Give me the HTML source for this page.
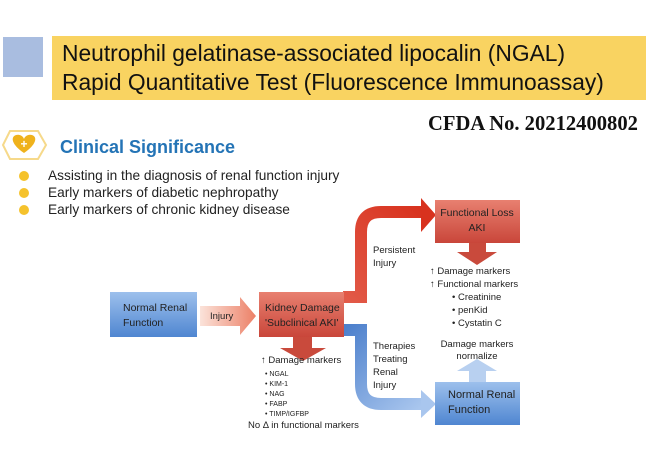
<!DOCTYPE html>
<html><head><meta charset="utf-8"><style>
body{margin:0;width:650px;height:466px;background:#fff;overflow:hidden;position:relative;font-family:"Liberation Sans",sans-serif}
.a{position:absolute;white-space:nowrap}
</style></head><body>
<div class="a" style="left:3px;top:37px;width:40px;height:40px;background:#a9bde0"></div>
<div class="a" style="left:52px;top:36px;width:594px;height:64px;background:#f9d361"></div>
<div class="a" style="left:62px;top:39px;font-size:22.8px;line-height:29px;color:#111">Neutrophil gelatinase-associated lipocalin (NGAL)<br>Rapid Quantitative Test (Fluorescence Immunoassay)</div>
<div class="a" style="left:428px;top:113px;font-family:'Liberation Serif',serif;font-weight:bold;font-size:20.6px;color:#111">CFDA No. 20212400802</div>
<svg class="a" style="left:0;top:0" width="650" height="466">
<defs>
<linearGradient id="bl" x1="0" y1="0" x2="0" y2="1"><stop offset="0" stop-color="#9dc0ec"/><stop offset="1" stop-color="#4f86d1"/></linearGradient>
<linearGradient id="rd" x1="0" y1="0" x2="0" y2="1"><stop offset="0" stop-color="#e88070"/><stop offset="1" stop-color="#c9463a"/></linearGradient>
<linearGradient id="inj" x1="0" y1="0" x2="1" y2="0"><stop offset="0" stop-color="#fbe3da"/><stop offset="1" stop-color="#ec8067"/></linearGradient>
<linearGradient id="rarr" x1="0" y1="1" x2="1" y2="0"><stop offset="0" stop-color="#e25a48"/><stop offset="1" stop-color="#d8321e"/></linearGradient>
<linearGradient id="barr" x1="0" y1="0" x2="1" y2="1"><stop offset="0" stop-color="#4d80cc"/><stop offset="1" stop-color="#a9c6ee"/></linearGradient>
</defs>
<polygon points="10,131 38,131 46,145 38,159 10,159 3,145" fill="none" stroke="#f6d98a" stroke-width="2"/>
<path d="M24,153 C12,145 10,137 16,135 C20,134 23,136 24,139 C25,136 28,134 32,135 C38,137 36,145 24,153Z" fill="#efb21c"/>
<text x="24" y="148" font-size="12" fill="#fff" text-anchor="middle" font-weight="bold">+</text>
<text x="60" y="153" font-size="18" font-weight="bold" fill="#2474b6">Clinical Significance</text>
<circle cx="24" cy="176" r="5" fill="#f5c22c"/><circle cx="24" cy="193" r="5" fill="#f5c22c"/><circle cx="24" cy="210" r="5" fill="#f5c22c"/>
<g font-size="13.7" fill="#222"><text x="48" y="180">Assisting in the diagnosis of renal function injury</text><text x="48" y="197">Early markers of diabetic nephropathy</text><text x="48" y="214">Early markers of chronic kidney disease</text></g>
<path d="M343,297 H361 V232 Q361,212 381,212 H424" fill="none" stroke="url(#rarr)" stroke-width="12"/>
<polygon points="421,198 436,215 421,232" fill="#d8321e"/>
<path d="M343,330 H361 V384 Q361,404 381,404 H424" fill="none" stroke="url(#barr)" stroke-width="12"/>
<polygon points="421,390 436,404 421,418" fill="#a9c6ee"/>
<rect x="110" y="292" width="87" height="45" fill="url(#bl)"/>
<polygon points="200,306 240,306 240,297 256,316 240,335 240,326 200,326" fill="url(#inj)"/>
<rect x="259" y="292" width="85" height="45" fill="url(#rd)"/>
<polygon points="293,337 312,337 312,348 326,348 303,361 280,348 293,348" fill="#c94a3c"/>
<rect x="435" y="200" width="85" height="43" fill="url(#rd)"/>
<polygon points="469,243 486,243 486,252 497,252 477,265 457,252 469,252" fill="#c94a3c"/>
<rect x="435" y="382" width="85" height="43" fill="url(#bl)"/>
<polygon points="469,382 486,382 486,371 497,371 477,359 457,371 469,371" fill="#b8d0f0"/>
<g font-family="'Liberation Sans',sans-serif" fill="#222">
<text x="123" y="311" font-size="10.5">Normal Renal</text><text x="123" y="326" font-size="10.5">Function</text>
<text x="210" y="319" font-size="9.5">Injury</text>
<text x="265" y="311" font-size="10.5">Kidney Damage</text><text x="265" y="326" font-size="10.5">'Subclinical AKI'</text>
<text x="477" y="216" font-size="10.5" text-anchor="middle">Functional Loss</text><text x="477" y="231" font-size="10.5" text-anchor="middle">AKI</text>
<text x="448" y="398" font-size="11">Normal Renal</text><text x="448" y="413" font-size="11">Function</text>
<g font-size="9.5"><text x="373" y="253">Persistent</text><text x="373" y="266">Injury</text>
<text x="373" y="349">Therapies</text><text x="373" y="362">Treating</text><text x="373" y="375">Renal</text><text x="373" y="388">Injury</text>
<text x="430" y="274"><tspan font-weight="bold">↑</tspan> Damage markers</text><text x="430" y="287"><tspan font-weight="bold">↑</tspan> Functional markers</text>
<text x="452" y="300">•  Creatinine</text><text x="452" y="313">•  penKid</text><text x="452" y="326">•  Cystatin C</text>
<text x="477" y="347" text-anchor="middle">Damage markers</text><text x="477" y="359" text-anchor="middle">normalize</text>
<text x="261" y="363"><tspan font-weight="bold">↑</tspan> Damage markers</text>
<text x="248" y="428">No Δ in functional markers</text></g>
<g font-size="7"><text x="265" y="376">•    NGAL</text><text x="265" y="386">•    KIM-1</text><text x="265" y="396">•    NAG</text><text x="265" y="406">•    FABP</text><text x="265" y="416">•    TIMP/IGFBP</text></g>
</g>
</svg>
</body></html>
